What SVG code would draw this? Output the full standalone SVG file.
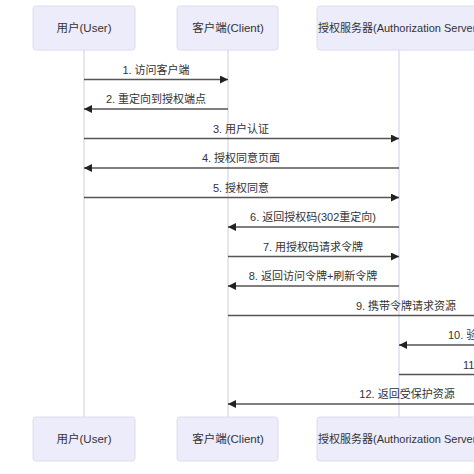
<svg xmlns="http://www.w3.org/2000/svg" width="474" height="474" viewBox="0 0 474 474">
<style>
.box{fill:#ececfb;stroke:#dcdcec;stroke-width:1}
.lbl{font-family:"Liberation Sans","Noto Sans CJK SC",sans-serif;font-size:11.5px;fill:#333;text-anchor:middle}
.lbl2{font-size:11px}
.life{stroke:#d6d6e6;stroke-width:1.2}
.msg{stroke:#555;stroke-width:1.4;fill:none}
.mt{font-family:"Liberation Sans","Noto Sans CJK SC",sans-serif;font-size:11px;fill:#333;text-anchor:middle}
.st{text-anchor:start}
</style>
<defs>
<marker id="ah" viewBox="0 0 10 10" refX="10" refY="5" markerWidth="8" markerHeight="8" markerUnits="userSpaceOnUse" orient="auto">
<path d="M0,0 L10,5 L0,10 z" fill="#222"/>
</marker>
</defs>
<rect width="474" height="474" fill="#fff"/>
<g id="lifelines">
<line class="life" x1="84" y1="50" x2="84" y2="417"/>
<line class="life" x1="228" y1="50" x2="228" y2="417"/>
<line class="life" x1="399" y1="50" x2="399" y2="417"/>
</g>
<g id="user-top"><rect class="box" x="33" y="6" width="102" height="44" rx="3"/><text class="lbl" x="84" y="32">用户(User)</text></g>
<g id="client-top"><rect class="box" x="177" y="6" width="101" height="44" rx="3"/><text class="lbl" x="228" y="32">客户端(Client)</text></g>
<g id="auth-top"><rect class="box" x="317" y="6" width="164" height="44" rx="3"/><text class="lbl lbl2" x="399" y="32">授权服务器(Authorization Server)</text></g>
<g id="user-bottom"><rect class="box" x="33" y="417" width="102" height="44" rx="3"/><text class="lbl" x="84" y="443">用户(User)</text></g>
<g id="client-bottom"><rect class="box" x="177" y="417" width="101" height="44" rx="3"/><text class="lbl" x="228" y="443">客户端(Client)</text></g>
<g id="auth-bottom"><rect class="box" x="317" y="417" width="164" height="44" rx="3"/><text class="lbl lbl2" x="399" y="443">授权服务器(Authorization Server)</text></g>
<g id="connectors">
<line class="msg" x1="84" y1="79.5" x2="228" y2="79.5" marker-end="url(#ah)"/>
<text class="mt" x="156" y="74">1. 访问客户端</text>
<line class="msg" x1="228" y1="109" x2="84" y2="109" marker-end="url(#ah)"/>
<text class="mt" x="156" y="103">2. 重定向到授权端点</text>
<line class="msg" x1="84" y1="138.5" x2="399" y2="138.5" marker-end="url(#ah)"/>
<text class="mt" x="241" y="133">3. 用户认证</text>
<line class="msg" x1="399" y1="168" x2="84" y2="168" marker-end="url(#ah)"/>
<text class="mt" x="241" y="162">4. 授权同意页面</text>
<line class="msg" x1="84" y1="197.5" x2="399" y2="197.5" marker-end="url(#ah)"/>
<text class="mt" x="241" y="192">5. 授权同意</text>
<line class="msg" x1="399" y1="227" x2="228" y2="227" marker-end="url(#ah)"/>
<text class="mt" x="313" y="221">6. 返回授权码(302重定向)</text>
<line class="msg" x1="228" y1="256.5" x2="399" y2="256.5" marker-end="url(#ah)"/>
<text class="mt" x="313" y="251">7. 用授权码请求令牌</text>
<line class="msg" x1="399" y1="286" x2="228" y2="286" marker-end="url(#ah)"/>
<text class="mt" x="313" y="280">8. 返回访问令牌+刷新令牌</text>
<line class="msg" x1="228" y1="315.5" x2="585" y2="315.5" marker-end="url(#ah)"/>
<text class="mt" x="406" y="310">9. 携带令牌请求资源</text>
<line class="msg" x1="585" y1="345" x2="399" y2="345" marker-end="url(#ah)"/>
<text class="mt st" x="448" y="339">10. 验证令牌</text>
<line class="msg" x1="399" y1="374.5" x2="585" y2="374.5" marker-end="url(#ah)"/>
<text class="mt st" x="463" y="369">11. 令牌有效</text>
<line class="msg" x1="585" y1="404" x2="228" y2="404" marker-end="url(#ah)"/>
<text class="mt" x="407" y="398">12. 返回受保护资源</text>
</g>
</svg>
